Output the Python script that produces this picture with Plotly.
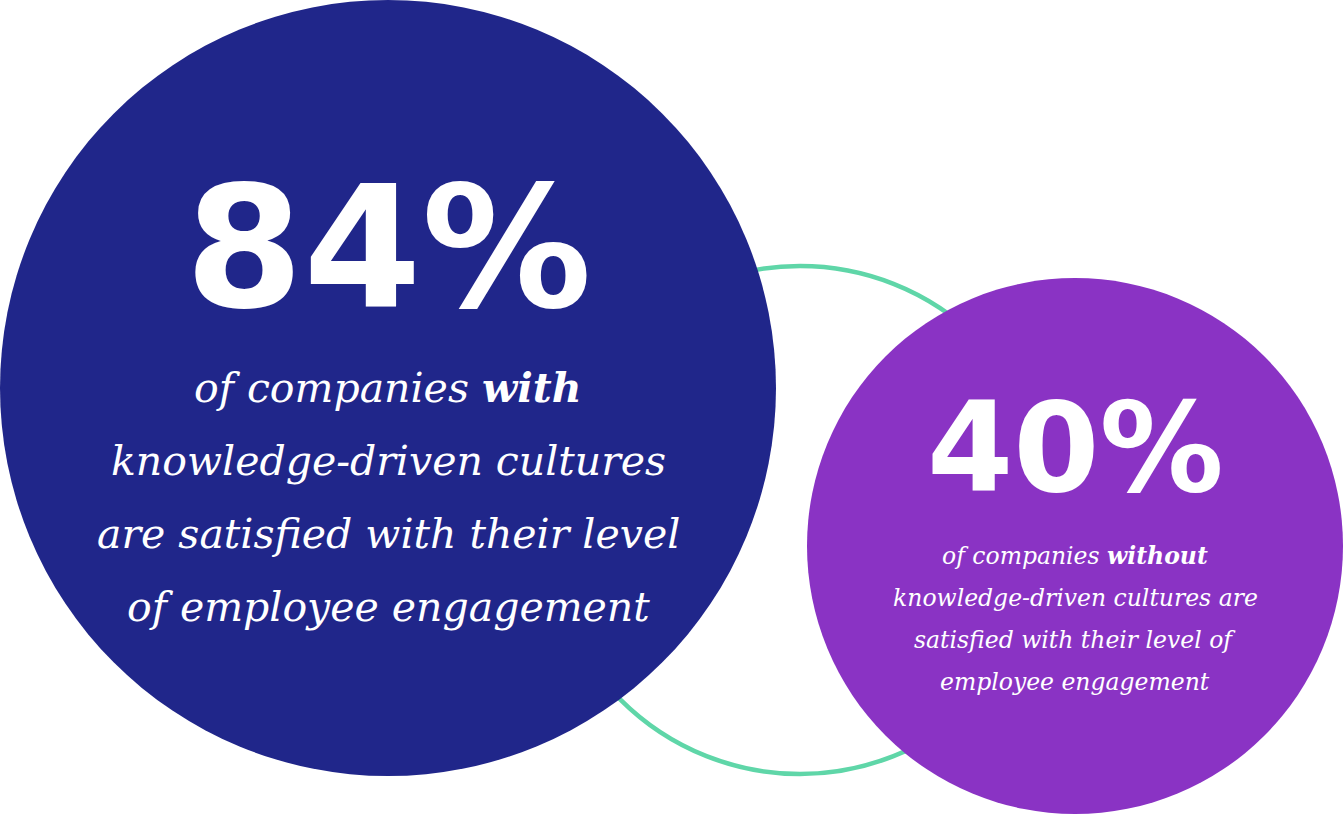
import plotly.graph_objects as go

# stat values and captions
stats = ["84%", "40%"]
caption_with = [
    "of companies <b>with</b>",
    "knowledge-driven cultures",
    "are satisfied with their level",
    "of employee engagement",
]
caption_without = [
    "of companies <b>without</b>",
    "knowledge-driven cultures are",
    "satisfied with their level of",
    "employee engagement",
]

NAVY = "#20268A"
PURPLE = "#8A33C4"
MINT = "#5FD6A8"

fig = go.Figure()

# ring behind, then the two discs
fig.add_shape(type="circle", x0=546, x1=1054, y0=266, y1=774,
              line=dict(color=MINT, width=4.5), fillcolor="rgba(0,0,0,0)")
fig.add_shape(type="circle", x0=0, x1=776, y0=0, y1=776,
              line=dict(width=0), fillcolor=NAVY)
fig.add_shape(type="circle", x0=807, x1=1343, y0=278, y1=814,
              line=dict(width=0), fillcolor=PURPLE)

# big numbers
fig.add_annotation(x=388, y=248, text=stats[0], showarrow=False,
                   font=dict(family="DejaVu Sans", size=170, color="white", weight="bold"),
                   xanchor="center", yanchor="middle")
fig.add_annotation(x=1075, y=448, text=stats[1], showarrow=False,
                   font=dict(family="DejaVu Sans", size=124, color="white", weight="bold"),
                   xanchor="center", yanchor="middle")

# captions, one annotation per line
for i, line in enumerate(caption_with):
    fig.add_annotation(x=388, y=388 + i * 73, text=f"<i>{line}</i>", showarrow=False,
                       font=dict(family="DejaVu Serif", size=41, color="white"),
                       xanchor="center", yanchor="middle")
for i, line in enumerate(caption_without):
    fig.add_annotation(x=1075, y=556 + i * 42, text=f"<i>{line}</i>", showarrow=False,
                       font=dict(family="DejaVu Serif", size=23.5, color="white"),
                       xanchor="center", yanchor="middle")

fig.update_layout(
    width=1344,
    height=815,
    margin=dict(l=0, r=0, t=0, b=0),
    paper_bgcolor="white",
    plot_bgcolor="white",
    showlegend=False,
    xaxis=dict(range=[0, 1344], visible=False, fixedrange=True),
    yaxis=dict(range=[815, 0], visible=False, fixedrange=True),
)

fig.write_html("out.html", config={"displayModeBar": False},
               post_script="document.body.style.margin = '0';")
